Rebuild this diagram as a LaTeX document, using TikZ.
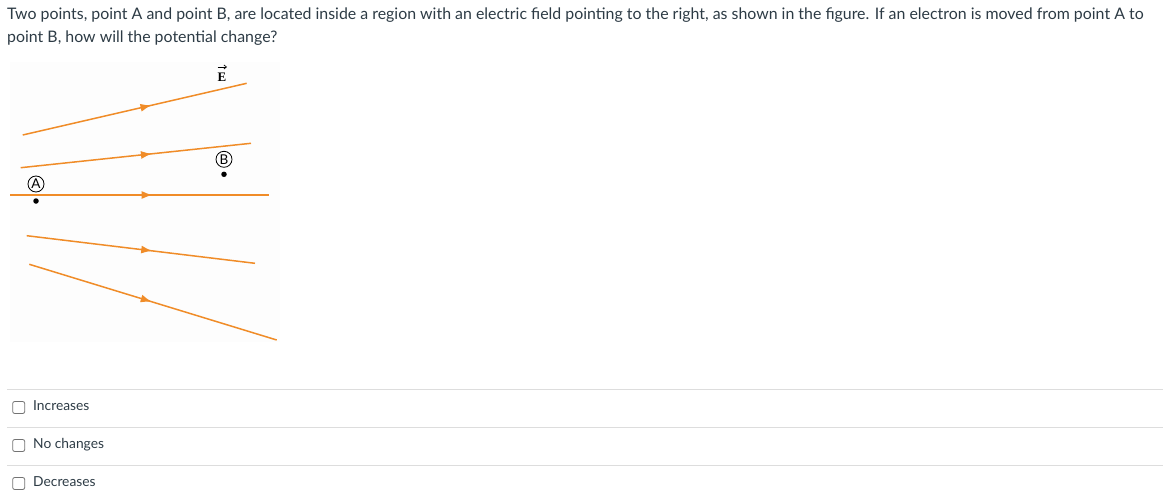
\documentclass[tikz,border=0pt]{standalone}
\usepackage{fontspec}
\setmainfont{Lato}
\newfontfamily\serifa{Liberation Serif}
\usetikzlibrary{arrows.meta,decorations.markings}

\definecolor{campo}{RGB}{240,140,40}
\definecolor{texto}{RGB}{45,59,69}
\definecolor{raya}{RGB}{221,221,221}
\definecolor{fondo}{RGB}{253,253,253}

\tikzstyle{linea}= [campo,line width=1.5pt]
\tikzstyle{punto}= [circle,fill=black,inner sep=0pt,minimum size=5.5pt]
\tikzstyle{etiqueta}= [circle,draw,black,inner sep=0pt,minimum size=16pt,line width=0.8pt,font=\fontsize{13.5}{13.5}\selectfont]
\tikzstyle{enunciado}= [anchor=base west,texto,inner sep=0pt,font=\fontsize{15.9}{18}\selectfont]
\tikzstyle{opcion}= [anchor=base west,texto,inner sep=0pt,font=\fontsize{13.8}{16}\selectfont]
\tikzstyle{casilla}= [rectangle,draw=black!55,rounded corners=2pt,minimum size=12pt,inner sep=0pt,line width=0.8pt]
\tikzstyle{separador}= [raya,line width=1pt]
\tikzstyle{vector}= [inner sep=0pt,font=\serifa\bfseries\fontsize{13}{13}\selectfont]
\tikzset{flecha/.style={postaction={decorate},decoration={markings,
  mark=at position #1 with {\arrow{Latex[length=11pt,width=8pt]}}}}}

\begin{document}
\begin{tikzpicture}[x=1pt,y=-1pt]
		\useasboundingbox (0,0) rectangle (1163,503);

		% enunciado
		\node (q1) at (7,19.5) [enunciado] {Two points, point A and point B, are located inside a region with an electric field pointing to the right, as shown in the figure. If an electron is moved from point A to};
		\node (q2) at (7,43) [enunciado] {point B, how will the potential change?};

		% figura
		\fill[fondo] (10,62) rectangle (280,342);

		\coordinate (l1a) at (22.7,135);   \coordinate (l1b) at (246.7,83.3);
		\coordinate (l2a) at (20.7,167.7); \coordinate (l2b) at (251,143.3);
		\coordinate (l3a) at (10,195);     \coordinate (l3b) at (269.3,195);
		\coordinate (l4a) at (26.7,235.7); \coordinate (l4b) at (255,263.3);
		\coordinate (l5a) at (29.3,264.3); \coordinate (l5b) at (276.7,340);

		\draw[linea,flecha=0.575] (l1a) -- (l1b);
		\draw[linea,flecha=0.57] (l2a) -- (l2b);
		\draw[linea,flecha=0.55] (l3a) -- (l3b);
		\draw[linea,flecha=0.55] (l4a) -- (l4b);
		\draw[linea,flecha=0.495] (l5a) -- (l5b);

		\node (E) at (222,77) [vector] {E};
		\coordinate (Ei) at (217.5,67);
		\coordinate (Ef) at (227,67);
		\draw[-{Straight Barb[length=2.5pt,width=4pt]},line width=0.7pt] (Ei) -- (Ef);

		\node (A) at (36,184) [etiqueta] {A};
		\node (a) at (36,201) [punto] {};
		\node (B) at (224,159.3) [etiqueta] {B};
		\node (b) at (224,174.3) [punto] {};

		% opciones
		\coordinate (s1a) at (7,389.3); \coordinate (s1b) at (1163,389.3);
		\coordinate (s2a) at (7,427.3); \coordinate (s2b) at (1163,427.3);
		\coordinate (s3a) at (7,465.3); \coordinate (s3b) at (1163,465.3);
		\draw[separador] (s1a) -- (s1b);
		\draw[separador] (s2a) -- (s2b);
		\draw[separador] (s3a) -- (s3b);

		\node (c1) at (18.7,407.5) [casilla] {};
		\node (o1) at (33,410.5) [opcion] {Increases};
		\node (c2) at (18.7,445.5) [casilla] {};
		\node (o2) at (33,448.5) [opcion] {No changes};
		\node (c3) at (18.7,483.5) [casilla] {};
		\node (o3) at (33,486.5) [opcion] {Decreases};

	\end{tikzpicture}
\end{document}
